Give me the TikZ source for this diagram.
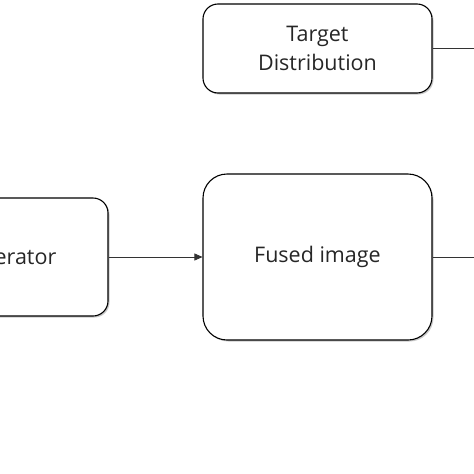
\documentclass[tikz,border=0pt]{standalone}
\usepackage{fontspec}
\setmainfont{Open Sans}
\usetikzlibrary{shadows,arrows.meta}
\begin{document}
\begin{tikzpicture}[x=1pt,y=-1pt,
  boxstyle/.style={draw=black,line width=1.1pt,fill=white,align=center,
    font=\fontsize{21.5}{29}\selectfont,text=black!85,
    drop shadow={shadow xshift=1.5pt,shadow yshift=-1.5pt,opacity=0.35,fill=black!60}},
  conn/.style={line width=0.7pt,draw=black!80},
  arr/.style={conn,-{Triangle[length=8pt,width=7pt]}}]
\clip (0,0) rectangle (474,474);
\fill[white] (0,0) rectangle (474,474);
\node[boxstyle,rounded corners=15pt,minimum width=229pt,minimum height=89pt] (target) at (317.5,48.5) {\raisebox{-2pt}{Target}\\\raisebox{-2pt}{Distribution}};
\node[boxstyle,rounded corners=24pt,minimum width=229pt,minimum height=166pt] (fused) at (317.5,257) {\raisebox{-3pt}{Fused image}};
\node[boxstyle,rounded corners=15pt,minimum width=206pt,minimum height=118pt] (gen) at (5,257) {\raisebox{-3pt}{Generator}};
\coordinate (tr) at (474,48.5);
\coordinate (fr) at (474,257);
\draw[arr] (gen.east) -- (fused.west);
\draw[conn] (target.east) -- (tr);
\draw[conn] (fused.east) -- (fr);
\end{tikzpicture}
\end{document}
